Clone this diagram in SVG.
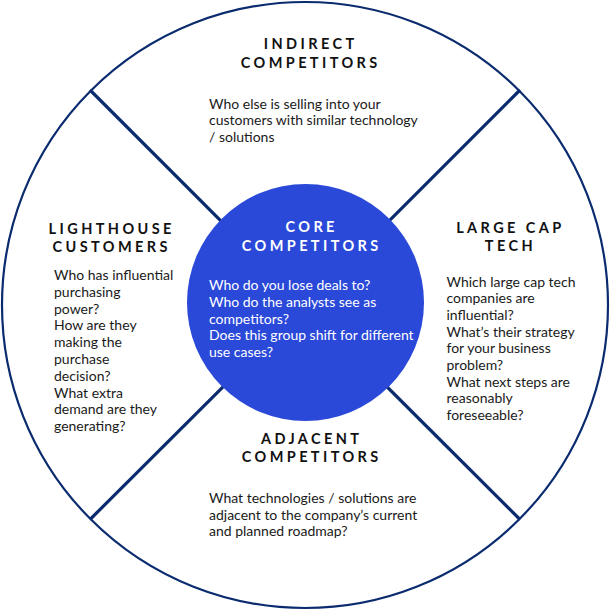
<svg xmlns="http://www.w3.org/2000/svg" width="610" height="610" viewBox="0 0 610 610">
<style>
.ring{fill:#ffffff;stroke:#0b2b6f;stroke-width:2.2}
.spoke{stroke:#0b2b6f;stroke-width:3.2;fill:none}
.core{fill:#2a49d9}
.h{font-family:Lato,"Liberation Sans",sans-serif;font-weight:700;font-size:14.5px;letter-spacing:3.4px;fill:#111111;text-anchor:middle}
.b{font-family:Lato,"Liberation Sans",sans-serif;font-size:14px;fill:#1a1a1a}
.w{fill:#ffffff}
</style>
<rect width="610" height="610" fill="#ffffff"/>
<circle class="ring" cx="305" cy="305" r="303"/>
<g id="connectors">
<line class="spoke" x1="90" y1="90" x2="305" y2="305"/>
<line class="spoke" x1="520" y1="90" x2="305" y2="305"/>
<line class="spoke" x1="90" y1="519.5" x2="305" y2="305"/>
<line class="spoke" x1="520" y1="519.5" x2="305" y2="305"/>
</g>
<g id="core">
<circle class="core" cx="305.5" cy="302.5" r="118.5"/>
<text class="h w" x="311.7" y="232">CORE</text>
<text class="h w" x="311.7" y="251">COMPETITORS</text>
<text class="b w" x="209" y="290">Who do you lose deals to?</text>
<text class="b w" x="209" y="306.8">Who do the analysts see as</text>
<text class="b w" x="209" y="323.6">competitors?</text>
<text class="b w" x="209" y="340.4">Does this group shift for different</text>
<text class="b w" x="209" y="357.2">use cases?</text>
</g>
<g id="indirect">
<text class="h" x="310.7" y="49">INDIRECT</text>
<text class="h" x="310.7" y="68">COMPETITORS</text>
<text class="b" x="209" y="108.5">Who else is selling into your</text>
<text class="b" x="209" y="125.2">customers with similar technology</text>
<text class="b" x="209" y="141.9">/ solutions</text>
</g>
<g id="lighthouse">
<text class="h" x="111.7" y="233.5">LIGHTHOUSE</text>
<text class="h" x="111.7" y="252">CUSTOMERS</text>
<text class="b" x="54" y="280">Who has influential</text>
<text class="b" x="54" y="296.8">purchasing</text>
<text class="b" x="54" y="313.6">power?</text>
<text class="b" x="54" y="330.4">How are they</text>
<text class="b" x="54" y="347.2">making the</text>
<text class="b" x="54" y="364">purchase</text>
<text class="b" x="54" y="380.8">decision?</text>
<text class="b" x="54" y="397.6">What extra</text>
<text class="b" x="54" y="414.4">demand are they</text>
<text class="b" x="54" y="431.2">generating?</text>
</g>
<g id="largecap">
<text class="h" x="510.4" y="232.5">LARGE CAP</text>
<text class="h" x="510.4" y="251">TECH</text>
<text class="b" x="446.5" y="286.5">Which large cap tech</text>
<text class="b" x="446.5" y="303.2">companies are</text>
<text class="b" x="446.5" y="319.9">influential?</text>
<text class="b" x="446.5" y="336.6">What’s their strategy</text>
<text class="b" x="446.5" y="353.3">for your business</text>
<text class="b" x="446.5" y="370">problem?</text>
<text class="b" x="446.5" y="386.7">What next steps are</text>
<text class="b" x="446.5" y="403.4">reasonably</text>
<text class="b" x="446.5" y="420.1">foreseeable?</text>
</g>
<g id="adjacent">
<text class="h" x="311.7" y="443.5">ADJACENT</text>
<text class="h" x="311.7" y="462">COMPETITORS</text>
<text class="b" x="209" y="503">What technologies / solutions are</text>
<text class="b" x="209" y="519.7">adjacent to the company’s current</text>
<text class="b" x="209" y="536.4">and planned roadmap?</text>
</g>
</svg>
